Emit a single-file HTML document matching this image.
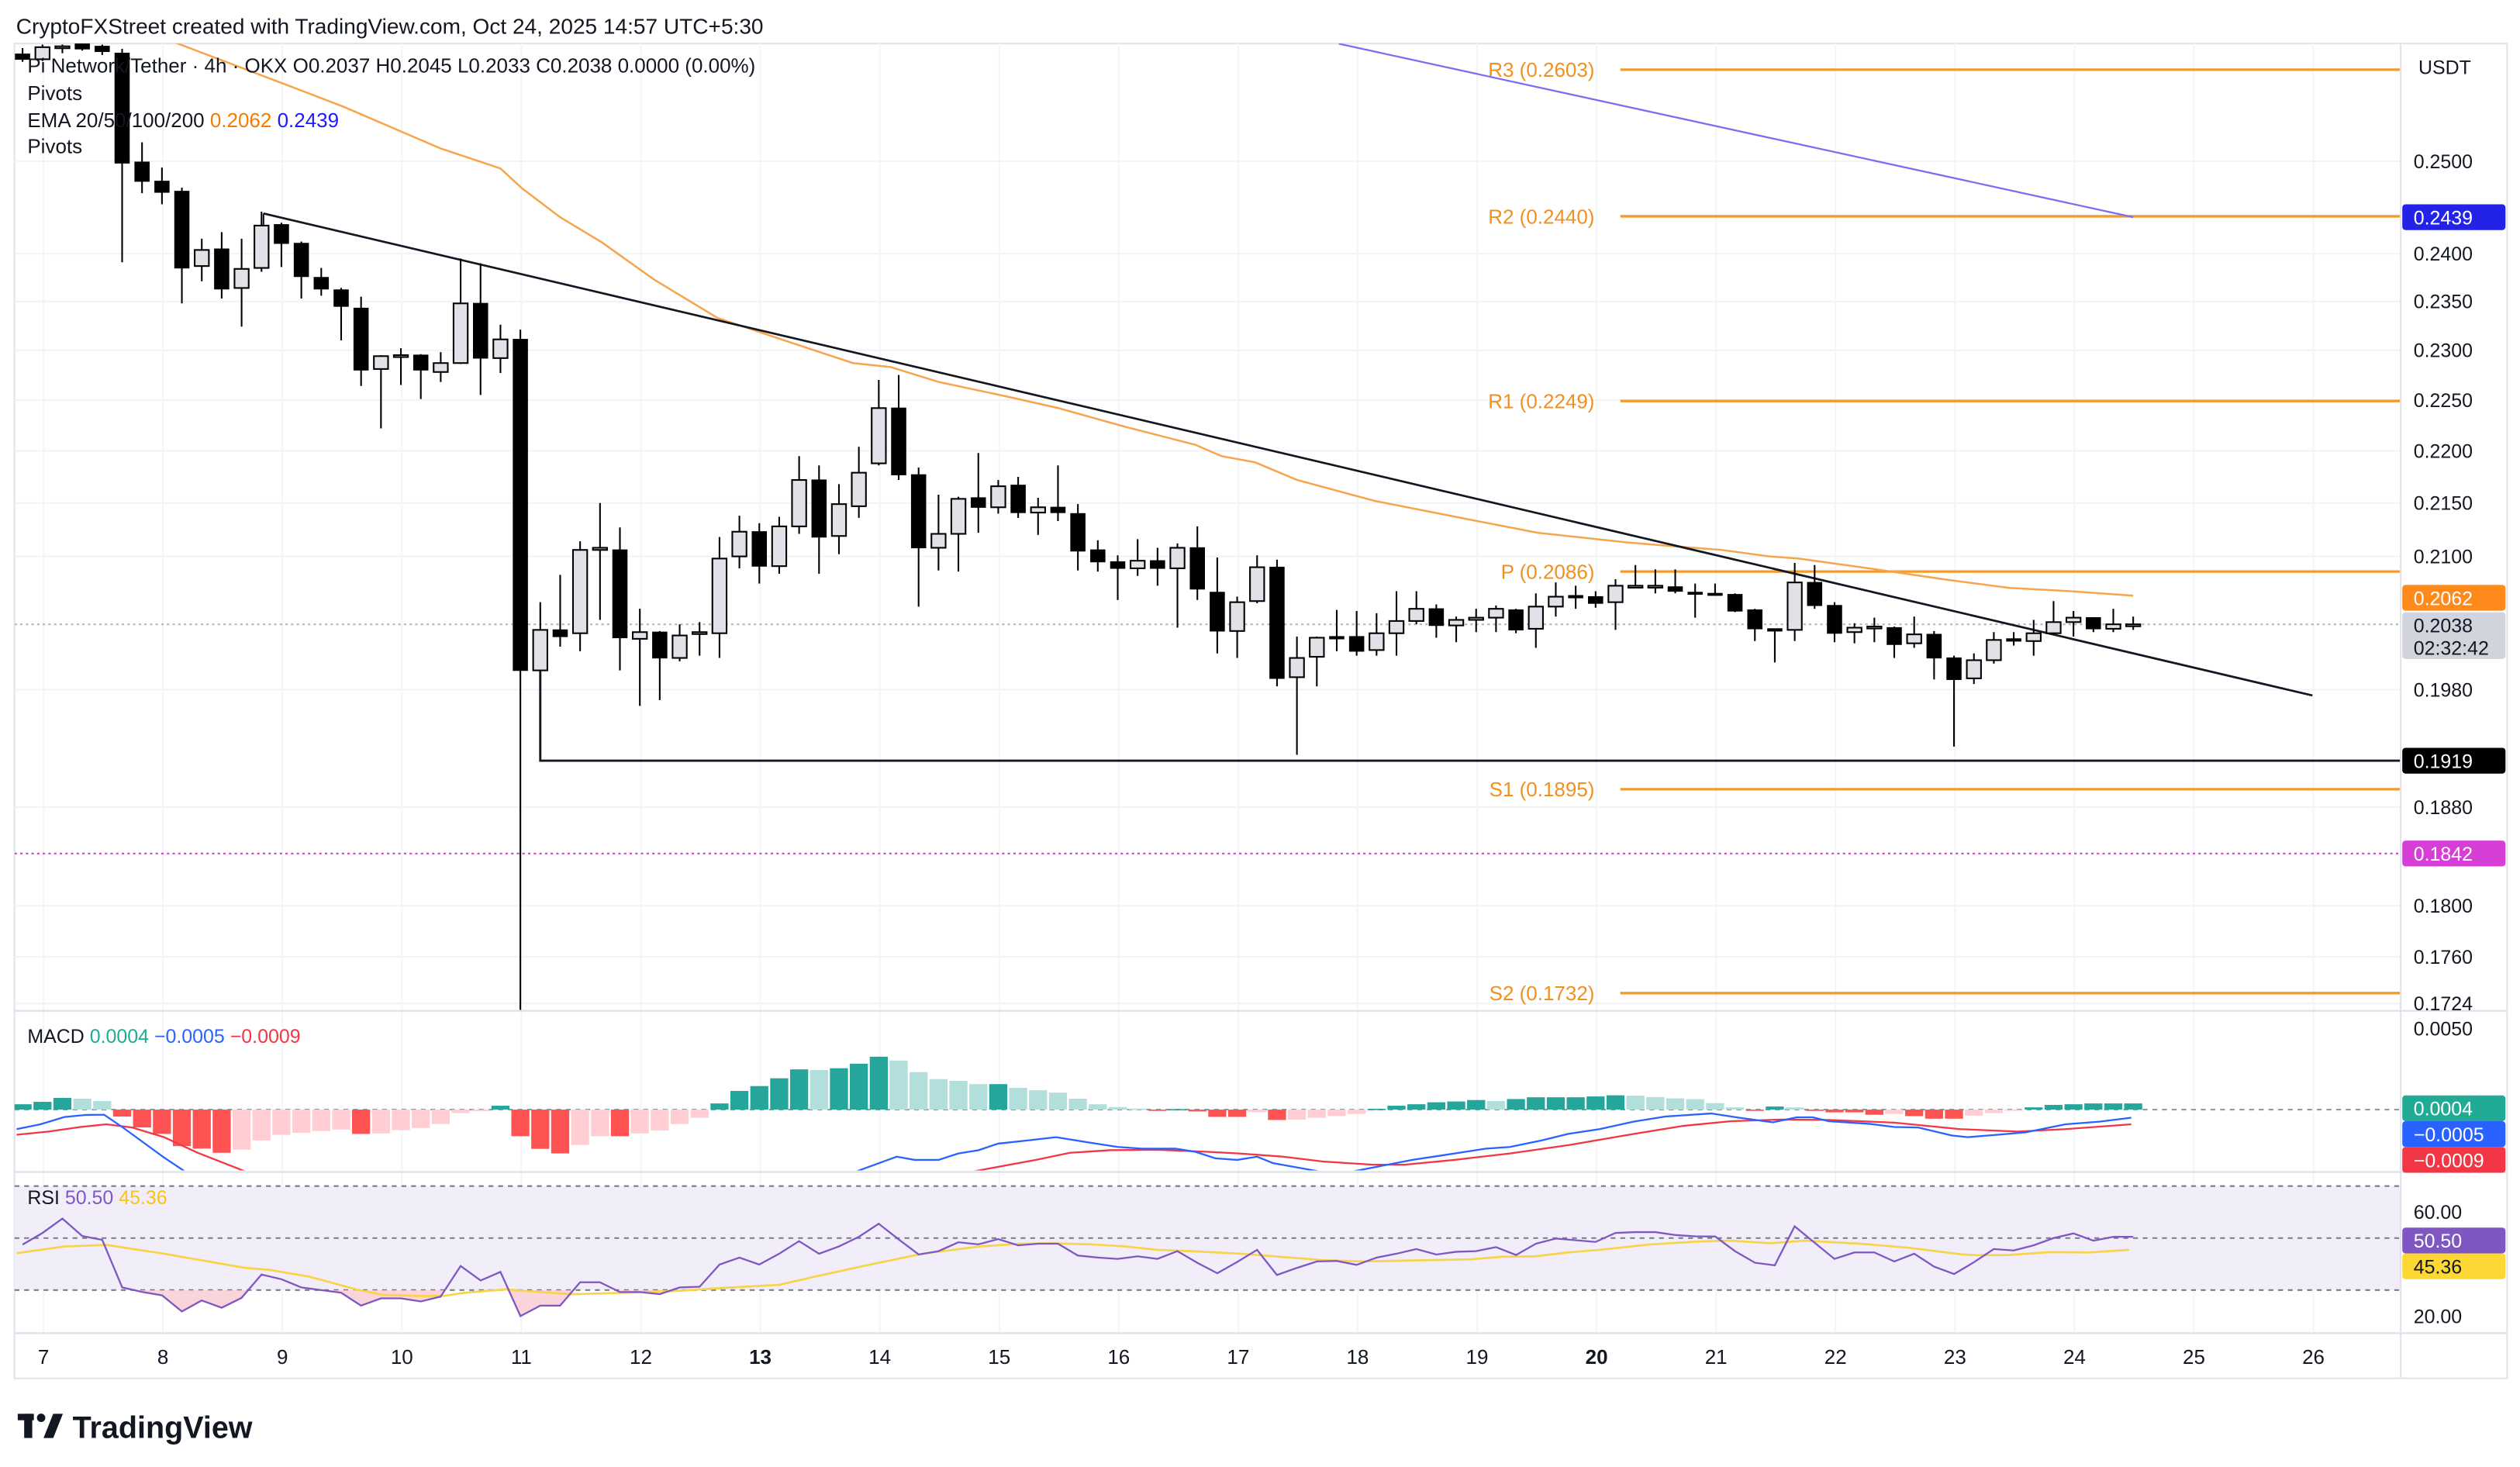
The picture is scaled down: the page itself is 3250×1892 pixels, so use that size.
<!DOCTYPE html>
<html><head><meta charset="utf-8">
<style>
html,body{margin:0;padding:0;background:#fff;}
svg{display:block;font-family:"Liberation Sans",Arial,sans-serif;}
</style></head>
<body>
<svg id="chart" xmlns="http://www.w3.org/2000/svg" width="3250" height="1892" viewBox="0 0 1563 910" preserveAspectRatio="none">
<defs>
<clipPath id="pricePane"><rect x="9" y="27" width="1480" height="600"/></clipPath>
<clipPath id="macdPane"><rect x="9" y="627" width="1480" height="99"/></clipPath>
<clipPath id="rsiPane"><rect x="9" y="727" width="1480" height="100"/></clipPath>
<clipPath id="rsiLow"><rect x="9" y="800.25" width="1480" height="27"/></clipPath>
</defs>
<rect x="0" y="0" width="1563" height="910" fill="#ffffff"/>
<text x="10" y="21" font-size="13.5" fill="#131722">CryptoFXStreet created with TradingView.com, Oct 24, 2025 14:57 UTC+5:30</text>
<rect x="9" y="27" width="1546" height="828" fill="none" stroke="#e0e3eb" stroke-width="1"/>
<g id="grid"></g>
<g id="price" clip-path="url(#pricePane)"></g>
<g id="macd" clip-path="url(#macdPane)"></g>
<g id="rsi" clip-path="url(#rsiPane)"></g>
<g id="axes"></g>
<g id="legend">
<text x="17" y="45" font-size="12.5" fill="#131722">Pi Network/Tether · 4h · OKX  O0.2037  H0.2045  L0.2033  C0.2038  0.0000 (0.00%)</text>
<text x="17" y="62" font-size="12.5" fill="#131722">Pivots</text>
<text x="17" y="79" font-size="12.5" fill="#131722">EMA 20/50/100/200 <tspan fill="#f57c00">0.2062</tspan> <tspan fill="#1a1aff">0.2439</tspan></text>
<text x="17" y="95" font-size="12.5" fill="#131722">Pivots</text>
<text x="17" y="647" font-size="12" fill="#131722">MACD <tspan fill="#22ab94">0.0004</tspan> <tspan fill="#2962ff">−0.0005</tspan> <tspan fill="#f23645">−0.0009</tspan></text>
<text x="17" y="747" font-size="12" fill="#131722">RSI <tspan fill="#7e57c2">50.50</tspan> <tspan fill="#f5c518">45.36</tspan></text>
</g>
<g>
<rect x="11" y="877" width="10" height="4" fill="#131722"/>
<rect x="15" y="877" width="5" height="15" fill="#131722"/>
<circle cx="25.5" cy="879.5" r="2.6" fill="#131722"/>
<polygon points="27,892 33,877 39,877 33,892" fill="#131722"/>
<text x="45" y="892" font-size="19" font-weight="bold" fill="#131722">TradingView</text>
</g>
</svg>
<script>
// ---------- candle data ----------
const opens=[.2621,.2615,.2630,.2634,.2630,.2622,.2499,.2478,.2467,.2387,.2405,.2364,.2385,.2431,.2411,.2375,.2362,.2343,.2281,.2295,.2295,.2278,.2287,.2348,.2292,.2311,.1997,.2033,.2030,.2106,.2106,.2025,.2031,.2008,.2030,.2030,.2100,.2123,.2091,.2128,.2172,.2119,.2147,.2188,.2242,.2177,.2108,.2121,.2155,.2146,.2167,.2141,.2146,.2140,.2106,.2095,.2089,.2096,.2089,.2108,.2067,.2032,.2059,.2090,.1991,.2009,.2027,.2027,.2015,.2030,.2041,.2052,.2037,.2042,.2044,.2051,.2034,.2054,.2064,.2063,.2058,.2073,.2073,.2072,.2067,.2066,.2065,.2051,.2034,.2033,.2076,.2055,.2031,.2035,.2035,.2021,.2029,.2008,.1990,.2006,.2025,.2023,.2030,.2040,.2044,.2034,.2037];
const highs=[.2628,.2632,.2632,.2636,.2632,.2627,.2521,.2493,.2471,.2416,.2423,.2416,.2445,.2433,.2413,.2385,.2364,.2355,.2295,.2302,.2296,.2298,.2395,.2390,.2326,.2321,.2058,.2083,.2114,.2150,.2127,.2052,.2032,.2038,.2040,.2118,.2138,.2131,.2137,.2195,.2186,.2168,.2204,.2270,.2275,.2184,.2158,.2156,.2198,.2172,.2175,.2155,.2186,.2149,.2115,.2101,.2116,.2108,.2112,.2128,.2099,.2063,.2101,.2097,.2027,.2027,.2051,.2050,.2048,.2068,.2068,.2056,.2045,.2052,.2055,.2052,.2066,.2076,.2073,.2068,.2079,.2092,.2088,.2088,.2075,.2075,.2066,.2052,.2034,.2094,.2092,.2058,.2039,.2044,.2036,.2045,.2032,.2010,.2012,.2031,.2031,.2042,.2059,.2050,.2044,.2052,.2045];
const lows=[.2612,.2613,.2622,.2625,.2620,.2391,.2465,.2453,.2348,.2371,.2353,.2324,.2381,.2386,.2353,.2356,.2310,.2264,.2222,.2265,.2251,.2268,.2286,.2255,.2277,.1700,.1996,.2018,.2014,.2042,.1997,.1966,.1971,.2005,.2010,.2008,.2089,.2075,.2084,.2121,.2084,.2102,.2136,.2186,.2172,.2054,.2087,.2086,.2122,.2140,.2136,.2120,.2133,.2087,.2086,.2060,.2082,.2073,.2035,.2060,.2012,.2008,.2057,.1983,.1924,.1983,.2014,.2010,.2010,.2010,.2038,.2026,.2022,.2031,.2031,.2030,.2017,.2045,.2052,.2053,.2033,.2071,.2066,.2066,.2044,.2064,.2049,.2023,.2004,.2023,.2052,.2022,.2021,.2022,.2008,.2017,.1989,.1931,.1985,.2003,.2019,.2010,.2029,.2027,.2031,.2031,.2033];
const closes=[.2615,.2629,.2630,.2627,.2624,.2498,.2478,.2466,.2385,.2404,.2363,.2384,.2430,.2411,.2376,.2363,.2345,.2280,.2294,.2295,.2280,.2287,.2348,.2292,.2311,.1997,.2033,.2027,.2106,.2108,.2026,.2031,.2008,.2028,.2031,.2098,.2123,.2091,.2128,.2172,.2118,.2149,.2179,.2242,.2177,.2108,.2121,.2154,.2146,.2166,.2141,.2146,.2141,.2105,.2095,.2089,.2096,.2089,.2108,.2070,.2032,.2058,.2090,.1990,.2008,.2026,.2025,.2014,.2030,.2041,.2052,.2037,.2042,.2044,.2052,.2033,.2054,.2063,.2062,.2057,.2073,.2073,.2073,.2068,.2066,.2065,.2050,.2034,.2032,.2076,.2055,.2030,.2035,.2036,.2020,.2029,.2008,.1989,.2006,.2024,.2023,.2030,.2040,.2044,.2034,.2038,.2038];
// EMA 50 sampled (candle index, value)
const emaIdx=[7.6,13.1,16.1,21,24,25.1,27,29.1,31.7,34.9,39,41.7,43.6,46,49.3,52,55.3,58.9,60.2,61.9,64,67.9,72.8,76.1,80.6,83.2,85.3,87.7,89.2,93.1,96.8,99.8,102.8,106];
const emaVal=[.2635,.2587,.2561,.2514,.2492,.2470,.2439,.2412,.2373,.2333,.2305,.2287,.2283,.2268,.2254,.2242,.2224,.2206,.2195,.2189,.2172,.2152,.2134,.2122,.2113,.2109,.2106,.2100,.2098,.2088,.2078,.2071,.2068,.2064];
// EMA 200 segment
const ema200Idx=[66.1,106];
const ema200Val=[.2633,.2439];
// descending trendline
const trendIdx=[12.1,115];
const trendVal=[.2443,.1975];
const supportStartIdx=26;
const supportVal=.1919;
const supportFromVal=.1997;
// pivots
const pivotNames=["R3","R2","R1","P","S1","S2"];
const pivotVals=[.2603,.2440,.2249,.2086,.1895,.1732];
const pivotText=["0.2603","0.2440","0.2249","0.2086","0.1895","0.1732"];
// price axis
const priceTicks=[.25,.24,.235,.23,.225,.22,.215,.21,.198,.188,.18,.176,.1724];
const priceTickLabels=["0.2500","0.2400","0.2350","0.2300","0.2250","0.2200","0.2150","0.2100","0.1980","0.1880","0.1800","0.1760","0.1724"];
const lastPrice=.2038;
const alertVal=.1842;
// time axis
const dayLabels=["7","8","9","10","11","12","13","14","15","16","17","18","19","20","21","22","23","24","25","26"];
const dayBold=["13","20"];
// MACD
const hist=[.00033,.00048,.00072,.00067,.00053,-.00043,-.0011,-.0015,-.00225,-.0024,-.00266,-.00247,-.0019,-.00156,-.00143,-.00132,-.00123,-.0015,-.00147,-.00127,-.00113,-.00089,-.00022,-.0001,.00024,-.00164,-.00242,-.0027,-.00218,-.00164,-.00164,-.00147,-.00129,-.00089,-.00051,.00038,.00115,.00145,.00193,.00248,.00244,.00255,.00283,.00326,.00302,.00231,.00188,.00177,.00157,.00157,.00134,.00119,.00105,.00067,.00033,.00016,.00006,-.00008,.00003,-.00011,-.00045,-.00045,-.00016,-.00064,-.00062,-.00051,-.0004,-.00027,.00005,.00024,.00033,.00045,.0005,.00059,.00053,.00065,.00076,.00076,.00076,.00081,.00088,.00086,.00077,.00069,.00064,.0004,.00014,-.00008,.00019,.00014,-.00008,-.00017,-.00017,-.00032,-.00027,-.0004,-.00056,-.00056,-.00037,-.00022,-.00008,.00014,.00029,.00033,.00038,.00038,.00038];
const macdIdx=[-0.3,0.9,2.1,3.2,4.1,5,7.1,9,15,27,35,41,43.9,44.8,46,47,48,49,50.5,51.9,53.4,55,56.2,57.9,58.9,59.9,61,62,62.8,66,69.8,71.4,73.5,74.7,76.3,77.6,79.2,80.9,82.5,84.8,86.2,87.9,89.1,89.9,90.7,92.8,94,95.2,96.9,97.7,99.3,100.6,102.6,104.3,105.9];
const macdVal=[-.0012,-.0009,-.00046,-.00033,-.00032,-.00107,-.00295,-.0045,-.006,-.0075,-.006,-.0042,-.0029,-.0031,-.0031,-.0027,-.0025,-.0021,-.0019,-.0017,-.002,-.0023,-.0024,-.0024,-.0026,-.003,-.0031,-.0029,-.0033,-.0040,-.0031,-.0028,-.0024,-.0023,-.0019,-.0015,-.0012,-.00075,-.00043,-.00024,-.0005,-.00078,-.00048,-.00048,-.00072,-.00088,-.00107,-.0011,-.0016,-.0017,-.00154,-.0014,-.0009,-.00075,-.0005];
const sigIdx=[-0.3,1.3,2.9,4.2,5.5,7.1,8.8,12,20,30,40,46,50.9,52.6,54.6,57,59.5,61.1,63.3,65.3,67.8,69.4,71.9,74.7,77.6,80.9,83.4,85.8,88.3,90.7,94,97.3,100.2,102.6,105.9];
const sigVal=[-.00155,-.00135,-.00107,-.0009,-.0011,-.0017,-.00266,-.0042,-.0055,-.0065,-.0055,-.0042,-.0031,-.00266,-.0025,-.00247,-.0026,-.0027,-.0029,-.0032,-.0034,-.0034,-.0031,-.0027,-.0022,-.0015,-.001,-.00072,-.00062,-.00064,-.0008,-.0012,-.00135,-.0012,-.0009];
const macdTickVals=[.005];
const macdTickLabels=["0.0050"];
// RSI
const rsi=[47.5,52,57.5,50.8,49.3,31,29.3,28,21.8,26,23.2,27,36,34.2,31,30,29,24,26.8,26.8,25.6,27.5,39.3,33.7,37,20,24,24,33,33,29.2,29.2,28.4,31,31.3,39.8,42.5,39.8,44,48.8,44,46.8,50.5,55.5,49.5,43.7,45,48.4,47.6,49.6,47.2,47.8,47.8,43.3,42.5,42,43,42,45,40.5,36.5,40.8,45.5,35.8,38.5,41,41.2,39.7,42.5,44,45.8,43.7,44.7,45,46.5,43.5,47.8,49.8,49.2,48.5,52,52.3,52.3,51.2,50.7,50.6,45,40.5,39.5,54.5,48.2,42,44.5,44.5,41,44,39,36.2,40.7,45.8,45.2,47.2,50,51.8,49,50.5,50.5];
const rsiMaIdx=[-0.3,2.1,4.2,7.1,11.2,12.4,14.4,16.9,18.1,20.2,21.2,22.2,24.3,25.5,27.6,30,33,35,38,39.8,42.7,45.2,48,50.1,51.7,53.8,55.4,57,58.7,61.2,63.7,65.3,67.3,69.4,72.7,74.3,76,77.6,79.2,81.7,84.2,85.8,87.8,89.5,92.3,94.8,97.3,98.1,99.7,101.8,103.8,105.8];
const rsiMaVal=[44.2,46.8,47.4,44,38.5,37.8,35.2,30,28.2,27.7,27.8,29,30.3,29.5,28.4,28.9,29.7,30.8,32,35.2,40,44,46.7,47.8,48,47.5,46.8,45.5,45,44,42.5,41.5,41,41.3,41.8,42.8,43,44.5,45.5,47.5,48.7,49,48,49,47.8,46.2,43.8,43.4,43.5,44.6,44.5,45.5];
const rsiTicks=[60,20];
const rsiTickLabels=["60.00","20.00"];

// ---------- scales ----------
const NS="http://www.w3.org/2000/svg";
function xOf(i){return 14+12.35*i;}
function yOf(p){return 100+(Math.log(0.25)-Math.log(p))*1406;}
function yMacd(v){return 688.3-v*10066;}
function yRsi(v){return 768-(v-50)*1.6125;}
function el(tag,parent){const e=document.createElementNS(NS,tag);parent.appendChild(e);return e;}
function set(e,o){for(const k in o)e.setAttribute(k,o[k]);return e;}
const gGrid=document.getElementById('grid');
const gPrice=document.getElementById('price');
const gMacd=document.getElementById('macd');
const gRsi=document.getElementById('rsi');
const gAxes=document.getElementById('axes');
const AX=1489;

// ---------- grid ----------
priceTicks.forEach((p,k)=>{
  const l=set(el('line',gGrid),{x1:9,x2:AX,y1:yOf(p),y2:yOf(p),stroke:'#f2f3f6','stroke-width':1});
  
  
});
dayLabels.forEach((d,k)=>{
  const x=xOf(1.05+6*k);
  const l=set(el('line',gGrid),{x1:x,x2:x,y1:27,y2:827,stroke:'#f4f5f8','stroke-width':1});
  
  
});

// ---------- price pane ----------
pivotVals.forEach((v,k)=>{
  const y=yOf(v);
  const l=set(el('line',gPrice),{x1:1005,x2:AX,y1:y,y2:y,stroke:'#f39b2b','stroke-width':1.6});
  
  
  const t=set(el('text',gPrice),{x:989,y:y+4.5,'font-size':12.5,fill:'#f0901e','text-anchor':'end'});
  t.textContent=pivotNames[k]+' ('+pivotText[k]+')';
  
  
});
{const y=yOf(alertVal);
 const l=set(el('line',gPrice),{x1:9,x2:AX,y1:y,y2:y,stroke:'#d63fd6','stroke-width':1,'stroke-dasharray':'1.5 2'});
 
 }
{const y=yOf(lastPrice);
 const l=set(el('line',gPrice),{x1:9,x2:AX,y1:y,y2:y,stroke:'#b2b5be','stroke-width':1,'stroke-dasharray':'1.5 2'});
 
 }
{const p=set(el('line',gPrice),{x1:xOf(ema200Idx[0]),y1:yOf(ema200Val[0]),x2:xOf(ema200Idx[1]),y2:yOf(ema200Val[1]),stroke:'#7b6ef0','stroke-width':1.1});
 
 }
{const pts=emaIdx.map((i,k)=>xOf(i).toFixed(1)+','+yOf(emaVal[k]).toFixed(1)).join(' ');
 const p=set(el('polyline',gPrice),{points:pts,fill:'none',stroke:'#f7a54c','stroke-width':1.2});
 
 }
{const p=set(el('line',gPrice),{x1:xOf(trendIdx[0]),y1:yOf(trendVal[0]),x2:xOf(trendIdx[1]),y2:yOf(trendVal[1]),stroke:'#131722','stroke-width':1.3});
 
 
 const t=set(el('line',gPrice),{x1:xOf(trendIdx[0]),y1:yOf(trendVal[0]),x2:xOf(trendIdx[0]),y2:yOf(trendVal[0])+9,stroke:'#131722','stroke-width':1});
 
 }
{const x0=xOf(supportStartIdx);
 const p=set(el('polyline',gPrice),{points:x0+','+yOf(supportFromVal)+' '+x0+','+yOf(supportVal)+' '+AX+','+yOf(supportVal),fill:'none',stroke:'#131722','stroke-width':1.4});
 
 }
opens.forEach((o,i)=>{
  const c=closes[i],h=highs[i],lo=lows[i],x=xOf(i);
  const up=c>=o;
  const g=el('g',gPrice);
  
  
  const w=set(el('line',g),{x1:x,x2:x,y1:yOf(h),y2:yOf(lo),stroke:'#000','stroke-width':1});
  
  
  const yt=yOf(Math.max(o,c)),yb=yOf(Math.min(o,c));
  const b=set(el('rect',g),{x:x-4.4,y:yt,width:8.8,height:Math.max(yb-yt,1.2),fill:up?'#e1e2e8':'#000',stroke:'#000','stroke-width':up?1:0.6});
  
  
});

// ---------- MACD pane ----------
{const l=set(el('line',gMacd),{x1:9,x2:AX,y1:yMacd(0),y2:yMacd(0),stroke:'#9598a1','stroke-width':1,'stroke-dasharray':'3 3'});
 
 }
hist.forEach((v,i)=>{
  const prev=i>0?hist[i-1]:v;
  let col;
  if(v>=0) col=(v>=prev)?'#26a69a':'#b2dfdb'; else col=(v<=prev)?'#ff5252':'#ffcdd2';
  const y0=yMacd(0),y1=yMacd(v);
  const r=set(el('rect',gMacd),{x:xOf(i)-5.6,y:Math.min(y0,y1),width:11.2,height:Math.max(Math.abs(y1-y0),0.8),fill:col});
  
  
});
{const pts=sigIdx.map((i,k)=>xOf(i).toFixed(1)+','+yMacd(sigVal[k]).toFixed(1)).join(' ');
 const p=set(el('polyline',gMacd),{points:pts,fill:'none',stroke:'#f23645','stroke-width':1.1});
 
 }
{const pts=macdIdx.map((i,k)=>xOf(i).toFixed(1)+','+yMacd(macdVal[k]).toFixed(1)).join(' ');
 const p=set(el('polyline',gMacd),{points:pts,fill:'none',stroke:'#2962ff','stroke-width':1.1});
 
 }

// ---------- RSI pane ----------
{const r=set(el('rect',gRsi),{x:9,y:yRsi(70),width:AX-9,height:yRsi(30)-yRsi(70),fill:'#f1edf9'});
 
 }
[70,50,30].forEach(v=>{
  const l=set(el('line',gRsi),{x1:9,x2:AX,y1:yRsi(v),y2:yRsi(v),stroke:'#787b86','stroke-width':1,'stroke-dasharray':'3 3'});
  
  
});
{let d='M'+xOf(0)+','+yRsi(30);
 rsi.forEach((v,i)=>{d+=' L'+xOf(i).toFixed(1)+','+yRsi(v).toFixed(1);});
 d+=' L'+xOf(rsi.length-1)+','+yRsi(30)+' Z';
 const p=set(el('path',gRsi),{d:d,fill:'#f9c9d2','clip-path':'url(#rsiLow)',opacity:0.8});
 
 }
{const pts=rsiMaIdx.map((i,k)=>xOf(i).toFixed(1)+','+yRsi(rsiMaVal[k]).toFixed(1)).join(' ');
 const p=set(el('polyline',gRsi),{points:pts,fill:'none',stroke:'#f7d44a','stroke-width':1.3});
 
 }
{const pts=rsi.map((v,i)=>xOf(i).toFixed(1)+','+yRsi(v).toFixed(1)).join(' ');
 const p=set(el('polyline',gRsi),{points:pts,fill:'none',stroke:'#7e57c2','stroke-width':1.1});
 
 }

// ---------- axes & separators ----------
[[627],[727],[827]].forEach(a=>{
  const l=set(el('line',gAxes),{x1:9,x2:1555,y1:a[0],y2:a[0],stroke:'#e0e3eb','stroke-width':1.2});
  
  
});
{const l=set(el('line',gAxes),{x1:AX,x2:AX,y1:27,y2:855,stroke:'#e0e3eb','stroke-width':1});
 
 }
{const t=set(el('text',gAxes),{x:1500,y:46,'font-size':12,fill:'#131722'});t.textContent='USDT';
 
 }
priceTicks.forEach((p,k)=>{
  const t=set(el('text',gAxes),{x:1497,y:yOf(p)+4.3,'font-size':12,fill:'#131722'});
  t.textContent=priceTickLabels[k];
  
  
});
macdTickVals.forEach((v,k)=>{
  const t=set(el('text',gAxes),{x:1497,y:yMacd(v)+4.3,'font-size':12,fill:'#131722'});
  t.textContent=macdTickLabels[k];
  
  
});
rsiTicks.forEach((v,k)=>{
  const t=set(el('text',gAxes),{x:1497,y:yRsi(v)+4.3,'font-size':12,fill:'#131722'});
  t.textContent=rsiTickLabels[k];
  
  
});
dayLabels.forEach((d,k)=>{
  const t=set(el('text',gAxes),{x:xOf(1.05+6*k),y:846,'font-size':12.5,fill:'#131722','text-anchor':'middle','font-weight':dayBold.includes(d)?'bold':'normal'});
  t.textContent=d;
  
  
});
function badge(y,h,bg,fg,lines,name){
  const g=el('g',gAxes);
  
  
  const r=set(el('rect',g),{x:AX+1,y:y-h/2,width:64,height:h,rx:2,fill:bg});
  
  
  lines.forEach((s,k)=>{
    const t=set(el('text',g),{x:1497,y:y-h/2+12.5+k*14,'font-size':12,fill:fg});
    t.textContent=s;
    
    
  });
}
badge(yOf(.2439),16,'#2323e8','#fff',['0.2439'],'ema200-price-badge');
badge(yOf(.2062),16,'#ff8a1c','#fff',['0.2062'],'ema50-price-badge');
badge(yOf(lastPrice)+7,29,'#d1d4dc','#131722',['0.2038','02:32:42'],'last-price-badge');
badge(yOf(supportVal),16,'#000','#fff',['0.1919'],'support-price-badge');
badge(yOf(alertVal),16,'#d63fd6','#fff',['0.1842'],'alert-price-badge');
badge(687.5,16,'#22ab94','#fff',['0.0004'],'histogram-badge');
badge(703.5,16,'#2962ff','#fff',['−0.0005'],'macd-badge');
badge(719.5,16,'#f23645','#fff',['−0.0009'],'signal-badge');
badge(769.5,16,'#7e57c2','#fff',['50.50'],'rsi-badge');
badge(785.5,16,'#fdd835','#131722',['45.36'],'rsi-ma-badge');
</script>
</body></html>
